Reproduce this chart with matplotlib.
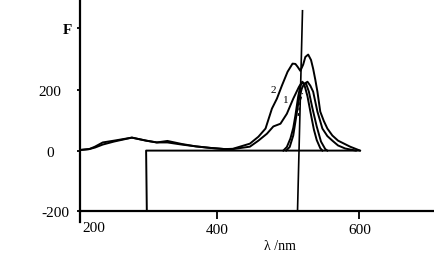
import numpy as np
import matplotlib
matplotlib.use("Agg")
import matplotlib.pyplot as plt

plt.rcParams['font.family'] = ['Liberation Serif', 'DejaVu Serif']

# shared low-wavelength part of the two broad spectra
base_wl = [207, 220, 228, 239, 255, 280, 300, 315, 330, 350, 370, 390, 411, 422]
base_f1 = [2, 5, 13, 27, 33, 43, 33, 27, 27, 20, 14, 9, 5, 5]
base_f2 = [2, 5, 10, 20, 30, 43, 33, 27, 32, 22, 14, 9, 5, 6]

# curve 2 (broad, two maxima ~506 and ~528 nm)
wl2 = [432, 446, 458, 468, 477, 484, 491, 499, 506, 510, 513, 517, 521, 524, 528, 532,
       535, 538, 541, 545, 550, 555, 562, 570, 587, 601]
f2 = [13, 23, 46, 73, 139, 172, 215, 261, 288, 287, 278, 264, 285, 310, 318, 300,
      271, 235, 195, 129, 98, 73, 50, 33, 13, 0]

# curve 1 (broad, ~525 nm)
wl1 = [446, 458, 470, 479, 489, 498, 507, 515, 519, 523, 527, 531, 535, 541, 548, 555,
       562, 570, 580, 595]
f1 = [13, 33, 56, 80, 89, 122, 172, 211, 226, 222, 228, 215, 195, 129, 73, 48,
      33, 17, 7, 0]

# narrow spectra
wl3 = [493, 498, 503, 507, 510, 514, 517, 520, 523, 527, 531, 536, 540, 545, 548]
f3 = [0, 12, 40, 75, 116, 180, 215, 228, 215, 180, 130, 70, 35, 8, 0]

wl4 = [497, 502, 507, 511, 515, 519, 522, 525, 529, 534, 540, 546, 552, 555]
f4 = [0, 12, 50, 110, 170, 205, 220, 222, 195, 140, 80, 30, 5, 0]

wl5 = [514, 516, 518, 520]
f5 = [115, 150, 175, 190]

fig = plt.figure(figsize=(4.34, 2.55), dpi=100)
ax = fig.add_axes([80 / 434, 43 / 255, 354 / 434, 212 / 255])

lw = 1.4
ax.plot(base_wl + wl1, base_f1 + f1, color='black', lw=lw)
ax.plot(base_wl + wl2, base_f2 + f2, color='black', lw=lw)
ax.plot(wl3, f3, color='black', lw=lw)
ax.plot(wl4, f4, color='black', lw=lw)
ax.plot(wl5, f5, color='black', lw=1.0, ls=(0, (2, 2)))

# step trace and marker line
ax.plot([301, 300, 600], [-200, 0, 0], color='black', lw=lw)
ax.plot([513, 520], [-200, 463], color='black', lw=1.2, clip_on=False)

ax.text(479, 203, '2', fontsize=8, ha='center', va='center')
ax.text(496, 170, '1', fontsize=8, ha='center', va='center')

ax.set_xlim(207, 705)
ax.set_ylim(-200, 502)

for s in ['top', 'right']:
    ax.spines[s].set_visible(False)
for s in ['left', 'bottom']:
    ax.spines[s].set_linewidth(1.6)

ax.set_xticks([400, 600])
ax.set_xticklabels(['400', '600'])
ax.set_yticks([-200, 0, 200, 407])
ax.set_yticklabels(['-200', '0', '200', 'F'])
ax.tick_params(axis='x', direction='out', length=6, width=1.3, labelsize=11, pad=3)
ax.tick_params(axis='y', direction='out', length=2.5, width=1.3, labelsize=11, pad=19)
yt = ax.yaxis.get_major_ticks()
for t in yt:
    t.label1.set_horizontalalignment('center')
yt[0].tick1line.set_markersize(6)
yt[0].set_pad(15.5)
yt[3].set_pad(6.8)
yt[3].label1.set_fontweight('bold')

# left spine runs a little below the x axis
ax.plot([0, 0], [0, -0.052], transform=ax.transAxes, color='black', lw=1.6, clip_on=False)

ax.text(0.008, -0.045, '200', transform=ax.transAxes, fontsize=11, ha='left', va='top')
ax.text(0.566, -0.165, 'λ /nm', transform=ax.transAxes, fontsize=10, ha='center', va='center')

fig.savefig('out.png', dpi=100)
